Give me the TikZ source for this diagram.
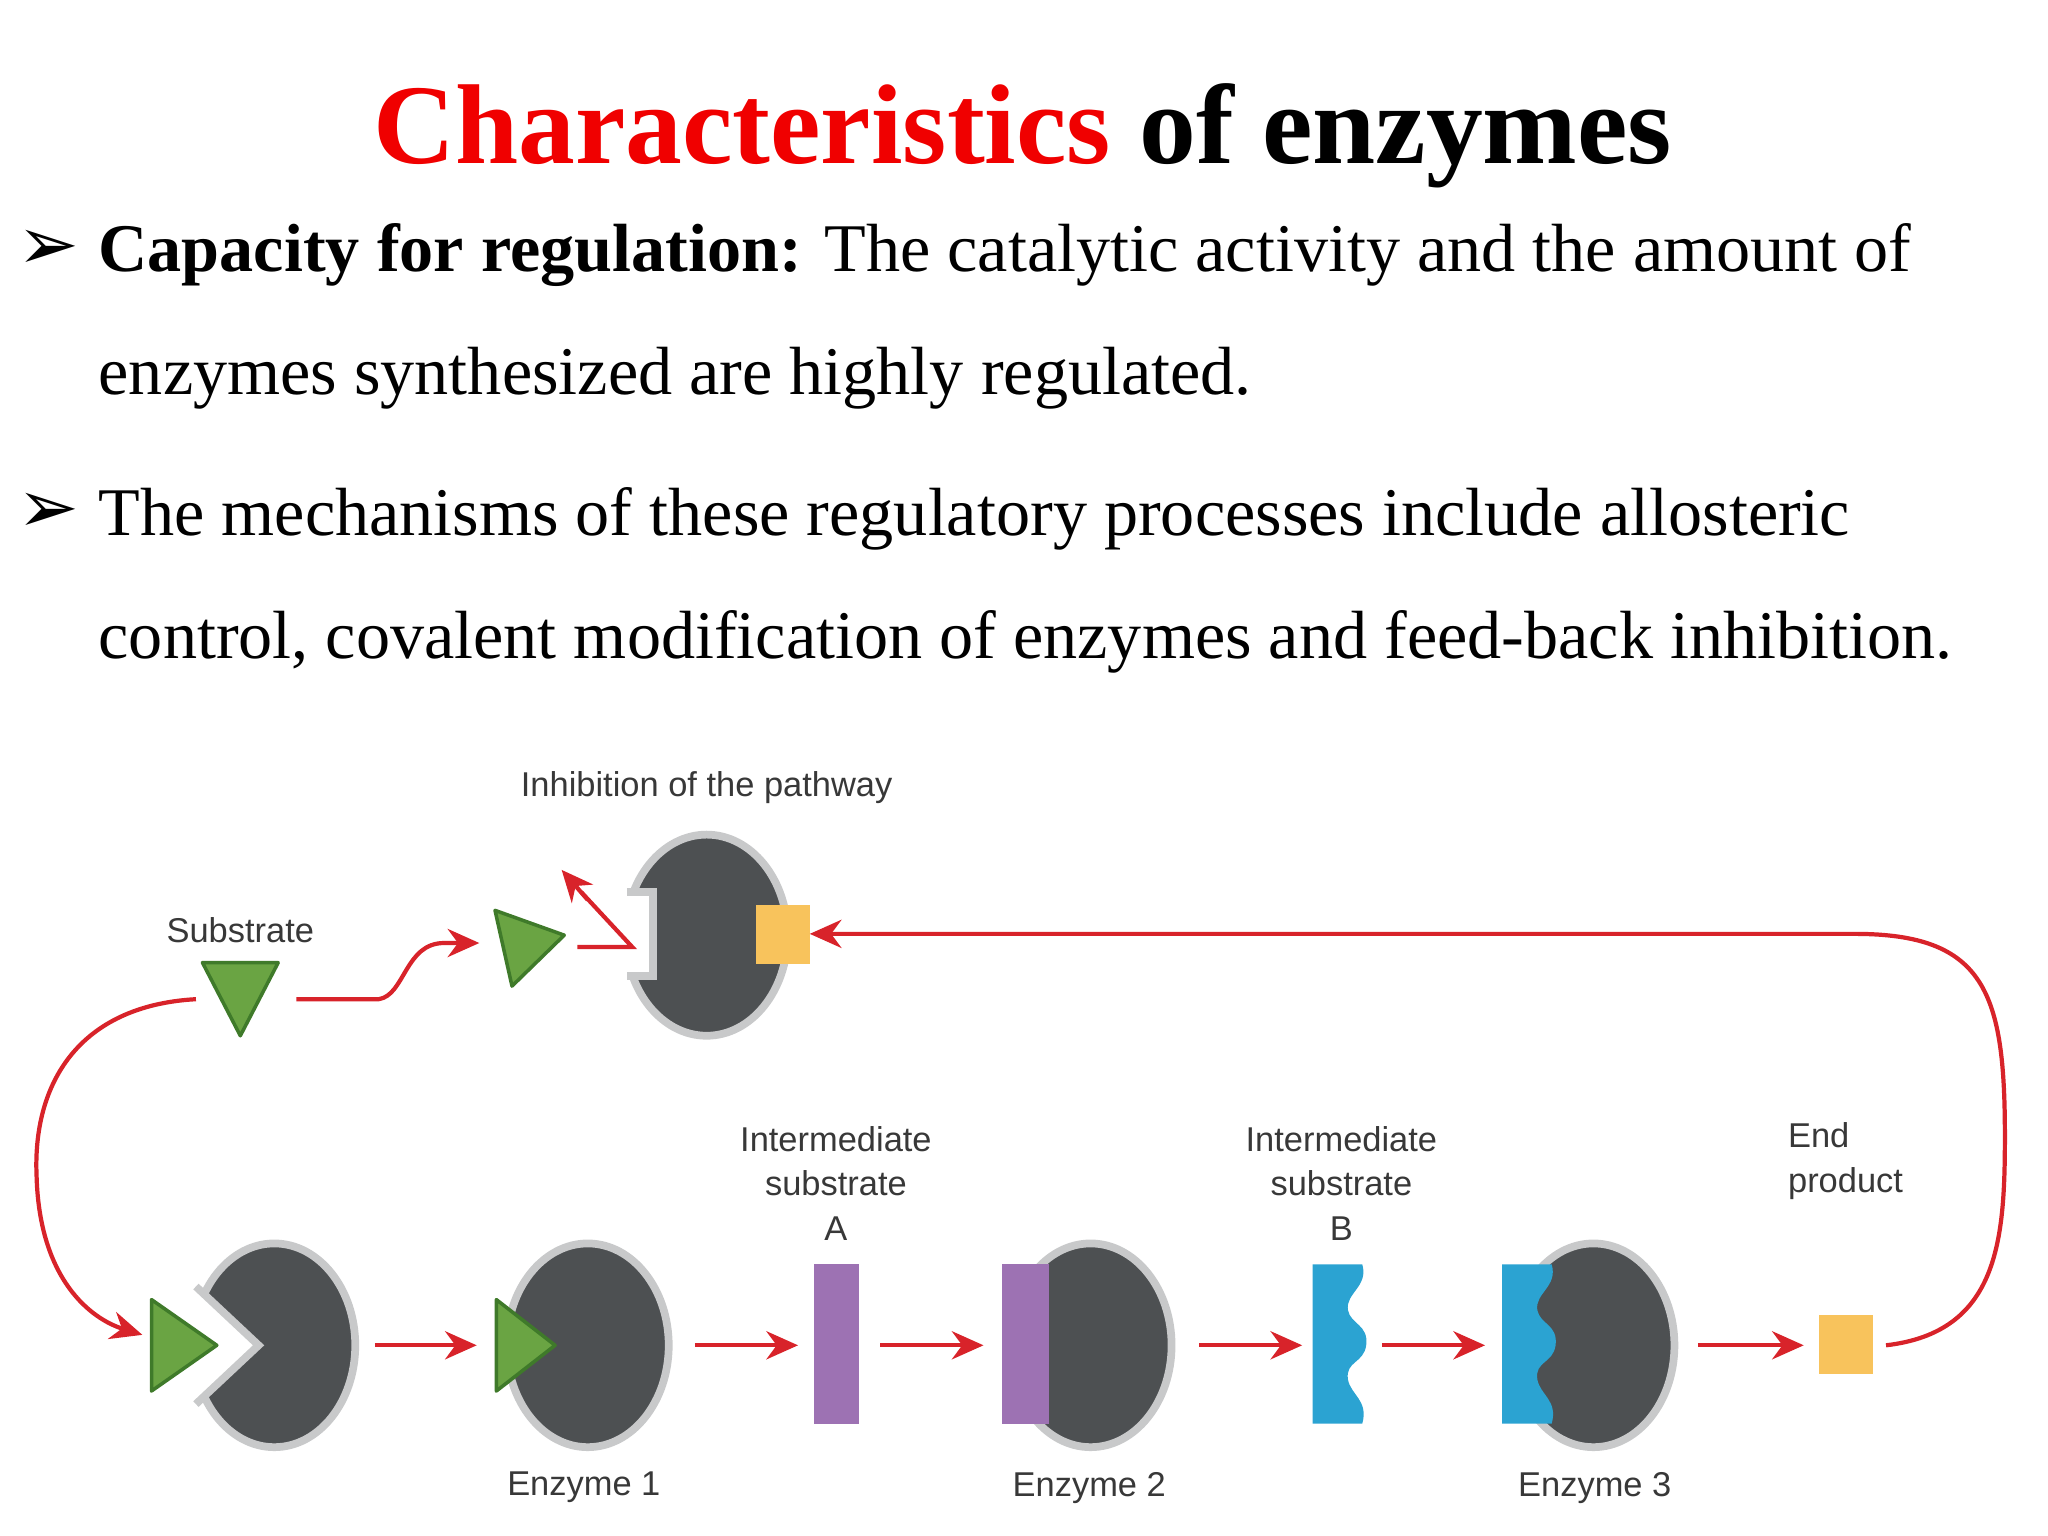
\documentclass[tikz,border=0pt]{standalone}
\usepackage{fontspec}
\setmainfont{Liberation Serif}
\newfontfamily\lab{Liberation Sans}
\newfontfamily\dvs{DejaVu Sans}
\usetikzlibrary{arrows.meta}
\definecolor{tred}{HTML}{F00000}
\definecolor{ared}{HTML}{D8232A}
\definecolor{enz}{HTML}{4D5052}
\definecolor{rim}{HTML}{C8C9CA}
\definecolor{grn}{HTML}{6AA443}
\definecolor{dgrn}{HTML}{3F7A2A}
\definecolor{purp}{HTML}{9D72B3}
\definecolor{blu}{HTML}{2BA3D2}
\definecolor{yel}{HTML}{F8C35C}
\tikzset{
  x=0.01306cm, y=-0.01306cm,
  arr/.style={draw=ared, line width=1.2pt, -{Stealth[length=9pt,width=8pt]}},
  lne/.style={draw=ared, line width=1.2pt},
  enzy/.style={fill=enz, draw=rim, line width=2.2pt},
  lbl/.style={font=\lab\fontsize{9.8}{12.6}\selectfont, text=black!78, align=center},
  body/.style={font=\fontsize{19.4}{22}\selectfont, anchor=base west, inner sep=0},
  tri/.style={fill=grn, draw=dgrn, line width=1pt, line join=round},
}
\begin{document}
\begin{tikzpicture}
\useasboundingbox (0,0) rectangle (1568,1176);
% title
\node[font=\bfseries\fontsize{32.3}{36}\selectfont, anchor=base, inner sep=0] (title) at (783,125) {\textcolor{tred}{Characteristics} of enzymes};
% bullets
\node[font=\dvs\fontsize{21}{24}\selectfont, anchor=base, inner sep=0] (b1) at (37,206) {➢};
\node[font=\dvs\fontsize{21}{24}\selectfont, anchor=base, inner sep=0] (b2) at (37,408) {➢};
\node[body] (t1) at (75,208) {\textbf{Capacity for regulation:} The catalytic activity and the amount of};
\node[body] (t2) at (75,302) {enzymes synthesized are highly regulated.};
\node[body] (t3) at (75,410) {The mechanisms of these regulatory processes include allosteric};
\node[body] (t4) at (75,504) {control, covalent modification of enzymes and feed-back inhibition.};
% labels
\node[lbl] (linh) at (541,603) {Inhibition of the pathway};
\node[lbl] (lsub) at (184,712) {Substrate};
\node[lbl] (lia) at (640,906) {Intermediate\\substrate\\A};
\node[lbl] (lib) at (1027,906) {Intermediate\\substrate\\B};
\node[lbl, align=left] (lend) at (1413,889) {End\\product};
\node[lbl] (le1) at (447,1139) {Enzyme 1};
\node[lbl] (le2) at (834,1139) {Enzyme 2};
\node[lbl] (le3) at (1221,1139) {Enzyme 3};
% top enzyme
\draw[enzy] (541,716) ellipse (62 and 77);
\fill[white] (470,683) rectangle (500,747);
\draw[rim, line width=2.2pt] (480,683) -- (500,683) -- (500,747) -- (480,747);
\fill[yel] (579,693) rectangle (620,738);
\coordinate (ep) at (620,715);
% substrate triangles
\draw[tri] (155,737) -- (213,737) -- (184,793) -- cycle;
\draw[tri] (379,697) -- (432,716) -- (392,755) -- cycle;
% enzyme 1 free (pac-man)
\draw[enzy] (210,1030) ellipse (62 and 78);
\fill[white] (140,975) -- (198,1030) -- (140,1085) -- cycle;
\draw[rim, line width=2.2pt] (150,985) -- (198,1030) -- (150,1075);
\draw[tri] (116,995) -- (166,1030) -- (116,1065) -- cycle;
% enzyme 1 bound
\draw[enzy] (450,1030) ellipse (62 and 78);
\draw[tri] (380,995) -- (425,1030) -- (380,1065) -- cycle;
% intermediate A
\fill[purp] (623,968) rectangle (658,1090);
% enzyme 2
\draw[enzy] (835,1030) ellipse (62 and 78);
\fill[purp] (767,968) rectangle (803,1090);
% intermediate B
\fill[blu] (1005,968) -- (1043,968) .. controls (1048,985) and (1030,990) .. (1032,1003)
  .. controls (1034,1014) and (1048,1014) .. (1046,1030) .. controls (1044,1044) and (1030,1042) .. (1032,1056)
  .. controls (1034,1068) and (1048,1072) .. (1043,1090) -- (1005,1090) -- cycle;
% enzyme 3
\draw[enzy] (1220,1030) ellipse (62 and 78);
\fill[blu] (1150,968) -- (1188,968) .. controls (1193,985) and (1175,990) .. (1177,1003)
  .. controls (1179,1014) and (1193,1014) .. (1191,1030) .. controls (1189,1044) and (1175,1042) .. (1177,1056)
  .. controls (1179,1068) and (1193,1072) .. (1188,1090) -- (1150,1090) -- cycle;
% end product
\fill[yel] (1393,1007) rectangle (1434,1052);
% arrows bottom row
\draw[arr] (287,1030) -- (365,1030);
\draw[arr] (532,1030) -- (611,1030);
\draw[arr] (674,1030) -- (753,1030);
\draw[arr] (918,1030) -- (997,1030);
\draw[arr] (1058,1030) -- (1137,1030);
\draw[arr] (1300,1030) -- (1381,1030);
% feedback loop
\draw[arr] (1444,1030) .. controls (1530,1020) and (1535,950) .. (1535,870)
  .. controls (1535,760) and (1520,715) .. (1420,715) -- (ep);
% substrate to enzyme 1
\draw[arr] (150,765) .. controls (60,770) and (25,830) .. (28,900)
  .. controls (30,980) and (70,1010) .. (109,1022);
% substrate to top
\draw[arr] (227,765) -- (290,765) .. controls (310,762) and (310,722) .. (340,722) -- (367,722);
% inhibition
\draw[lne, line join=miter] (442,725) -- (484,725) -- (445,683);
\draw[arr] (450,689) -- (430,666);
\end{tikzpicture}
\end{document}
